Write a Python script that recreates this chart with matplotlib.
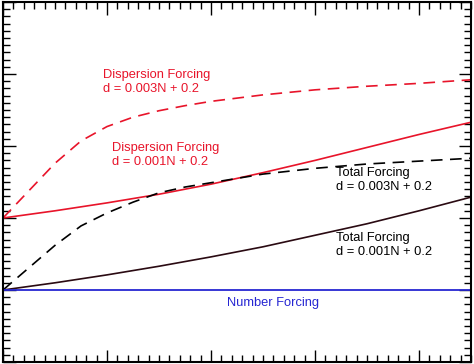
import matplotlib
matplotlib.use("Agg")
import matplotlib.pyplot as plt
from matplotlib.ticker import MultipleLocator

# ---- data ----
x_disp3 = [0.0, 0.25, 0.5, 0.75, 1.0, 1.25, 1.5, 1.75, 2.0, 2.5, 3.0, 3.5, 4.0, 4.5]
y_disp3 = [2.0, 2.38, 2.76, 3.07, 3.27, 3.40, 3.49, 3.56, 3.62, 3.71, 3.78, 3.83, 3.87, 3.92]

x_tot3 = [0.0, 0.25, 0.5, 0.75, 1.0, 1.25, 1.5, 1.75, 2.0, 2.5, 3.0, 3.5, 4.0, 4.5]
y_tot3 = [1.0, 1.31, 1.62, 1.89, 2.07, 2.22, 2.35, 2.43, 2.49, 2.61, 2.69, 2.75, 2.79, 2.83]

x_disp1 = [0.0, 0.5, 1.0, 1.5, 2.0, 2.5, 3.0, 3.5, 4.0, 4.5]
y_disp1 = [2.0, 2.10, 2.21, 2.33, 2.47, 2.63, 2.80, 2.98, 3.16, 3.33]

x_tot1 = [0.0, 0.5, 1.0, 1.5, 2.0, 2.5, 3.0, 3.5, 4.0, 4.5]
y_tot1 = [1.0, 1.10, 1.21, 1.33, 1.46, 1.60, 1.76, 1.92, 2.10, 2.29]

x_num = [0.0, 4.5]
y_num = [1.0, 1.0]

labels = {
    "disp3": "Dispersion Forcing\nd = 0.003N + 0.2",
    "disp1": "Dispersion Forcing\nd = 0.001N + 0.2",
    "tot3": "Total Forcing\nd = 0.003N + 0.2",
    "tot1": "Total Forcing\nd = 0.001N + 0.2",
    "num": "Number Forcing",
}

RED = "#e8142a"
BLUE = "#2626d2"
DARK = "#2a0a12"

plt.rcParams["font.family"] = ["Liberation Sans", "DejaVu Sans"]

W, H = 474, 364
fig = plt.figure(figsize=(W / 100, H / 100), dpi=100)
L, R, T, B = 3, 471, 2, 362
ax = fig.add_axes([L / W, 1 - B / H, (R - L) / W, (B - T) / H])

dash = (0, (7, 4.5))
ax.plot(x_disp3, y_disp3, color=RED, lw=1.2, linestyle=dash)
ax.plot(x_disp1, y_disp1, color=RED, lw=1.2)
ax.plot(x_tot3, y_tot3, color="black", lw=1.2, linestyle=dash)
ax.plot(x_tot1, y_tot1, color=DARK, lw=1.2)
ax.plot(x_num, y_num, color=BLUE, lw=1.3)

ax.set_xlim(0, 4.5)
ax.set_ylim(0, 5)
ax.xaxis.set_major_locator(MultipleLocator(1))
ax.xaxis.set_minor_locator(MultipleLocator(0.1))
ax.yaxis.set_major_locator(MultipleLocator(1))
ax.yaxis.set_minor_locator(MultipleLocator(0.1))
ax.tick_params(which="both", direction="in", top=True, right=True,
               labelbottom=False, labelleft=False, width=1.0, color="black")
ax.tick_params(which="major", length=9)
ax.tick_params(which="minor", length=5)
for s in ax.spines.values():
    s.set_linewidth(1.5)


def px(xp, yp):
    return ((xp - L) / (R - L), (B - yp) / (B - T))

fs = 9.3
ax.text(*px(103, 69), labels["disp3"], color=RED, fontsize=fs, va="top", ha="left",
        transform=ax.transAxes, linespacing=1.25)
ax.text(*px(112, 142), labels["disp1"], color=RED, fontsize=fs, va="top", ha="left",
        transform=ax.transAxes, linespacing=1.25)
ax.text(*px(336, 167), labels["tot3"], color="black", fontsize=fs, va="top", ha="left",
        transform=ax.transAxes, linespacing=1.25)
ax.text(*px(336, 232), labels["tot1"], color="black", fontsize=fs, va="top", ha="left",
        transform=ax.transAxes, linespacing=1.25)
ax.text(*px(227, 303), labels["num"], color=BLUE, fontsize=fs, va="center", ha="left",
        transform=ax.transAxes)

fig.savefig("out.png", dpi=100)
